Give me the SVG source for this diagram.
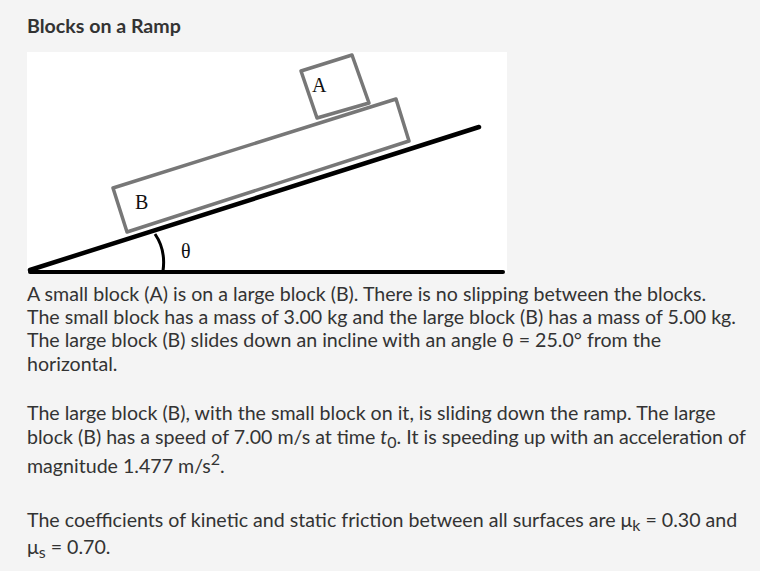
<svg xmlns="http://www.w3.org/2000/svg" width="760" height="571" viewBox="0 0 760 571">
<style>
.t{font-family:Lato,"Liberation Sans",sans-serif;font-size:19.6px;fill:#333}
.lbl{font-family:"Liberation Serif",serif;font-size:20px;fill:#111}
.blk{fill:#fff;stroke:#777;stroke-width:3.5;stroke-linejoin:round}
</style>
<rect width="760" height="571" fill="#f4f4f4"/>
<text x="27" y="33" class="t" font-weight="bold" fill="#222">Blocks on a Ramp</text>
<g id="figure">
<rect x="27" y="52" width="480" height="221" fill="#fff"/>
<line x1="30" y1="272" x2="503" y2="272" stroke="#000" stroke-width="4" stroke-linecap="round"/>
<line x1="30" y1="270" x2="479" y2="127" stroke="#000" stroke-width="4.5" stroke-linecap="round"/>
<path d="M155,234 Q166,250 163,271" fill="none" stroke="#000" stroke-width="3"/>
<text x="181" y="258" class="lbl">θ</text>
</g>
<g id="blockB">
<polygon points="113,188 396,99 409,141 127,232" class="blk"/>
<text x="135" y="209" class="lbl">B</text>
</g>
<g id="blockA">
<polygon points="301,71 352,55 369,103 317,118" class="blk"/>
<text x="312" y="92" class="lbl">A</text>
</g>
<g id="connectors"></g>
<g id="text">
<text x="27" y="301" class="t">A small block (A) is on a large block (B). There is no slipping between the blocks.</text>
<text x="27" y="324" class="t">The small block has a mass of 3.00 kg and the large block (B) has a mass of 5.00 kg.</text>
<text x="27" y="347" class="t">The large block (B) slides down an incline with an angle θ = 25.0° from the</text>
<text x="27" y="371" class="t">horizontal.</text>
<text x="27" y="420" class="t">The large block (B), with the small block on it, is sliding down the ramp.  The large</text>
<text x="27" y="444" class="t">block (B) has a speed of 7.00 m/s at time <tspan font-style="italic">t</tspan><tspan font-size="16" dy="4">0</tspan><tspan dy="-4">.  It is speeding up with an acceleration of</tspan></text>
<text x="27" y="473" class="t">magnitude 1.477 m/s<tspan font-size="16" dy="-8">2</tspan><tspan dy="8">.</tspan></text>
<text x="27" y="527" class="t">The coefficients of kinetic and static friction between all surfaces are μ<tspan font-size="16" dy="4">k</tspan><tspan dy="-4"> = 0.30 and</tspan></text>
<text x="27" y="554" class="t">μ<tspan font-size="16" dy="4">s</tspan><tspan dy="-4"> = 0.70.</tspan></text>
</g>
</svg>
